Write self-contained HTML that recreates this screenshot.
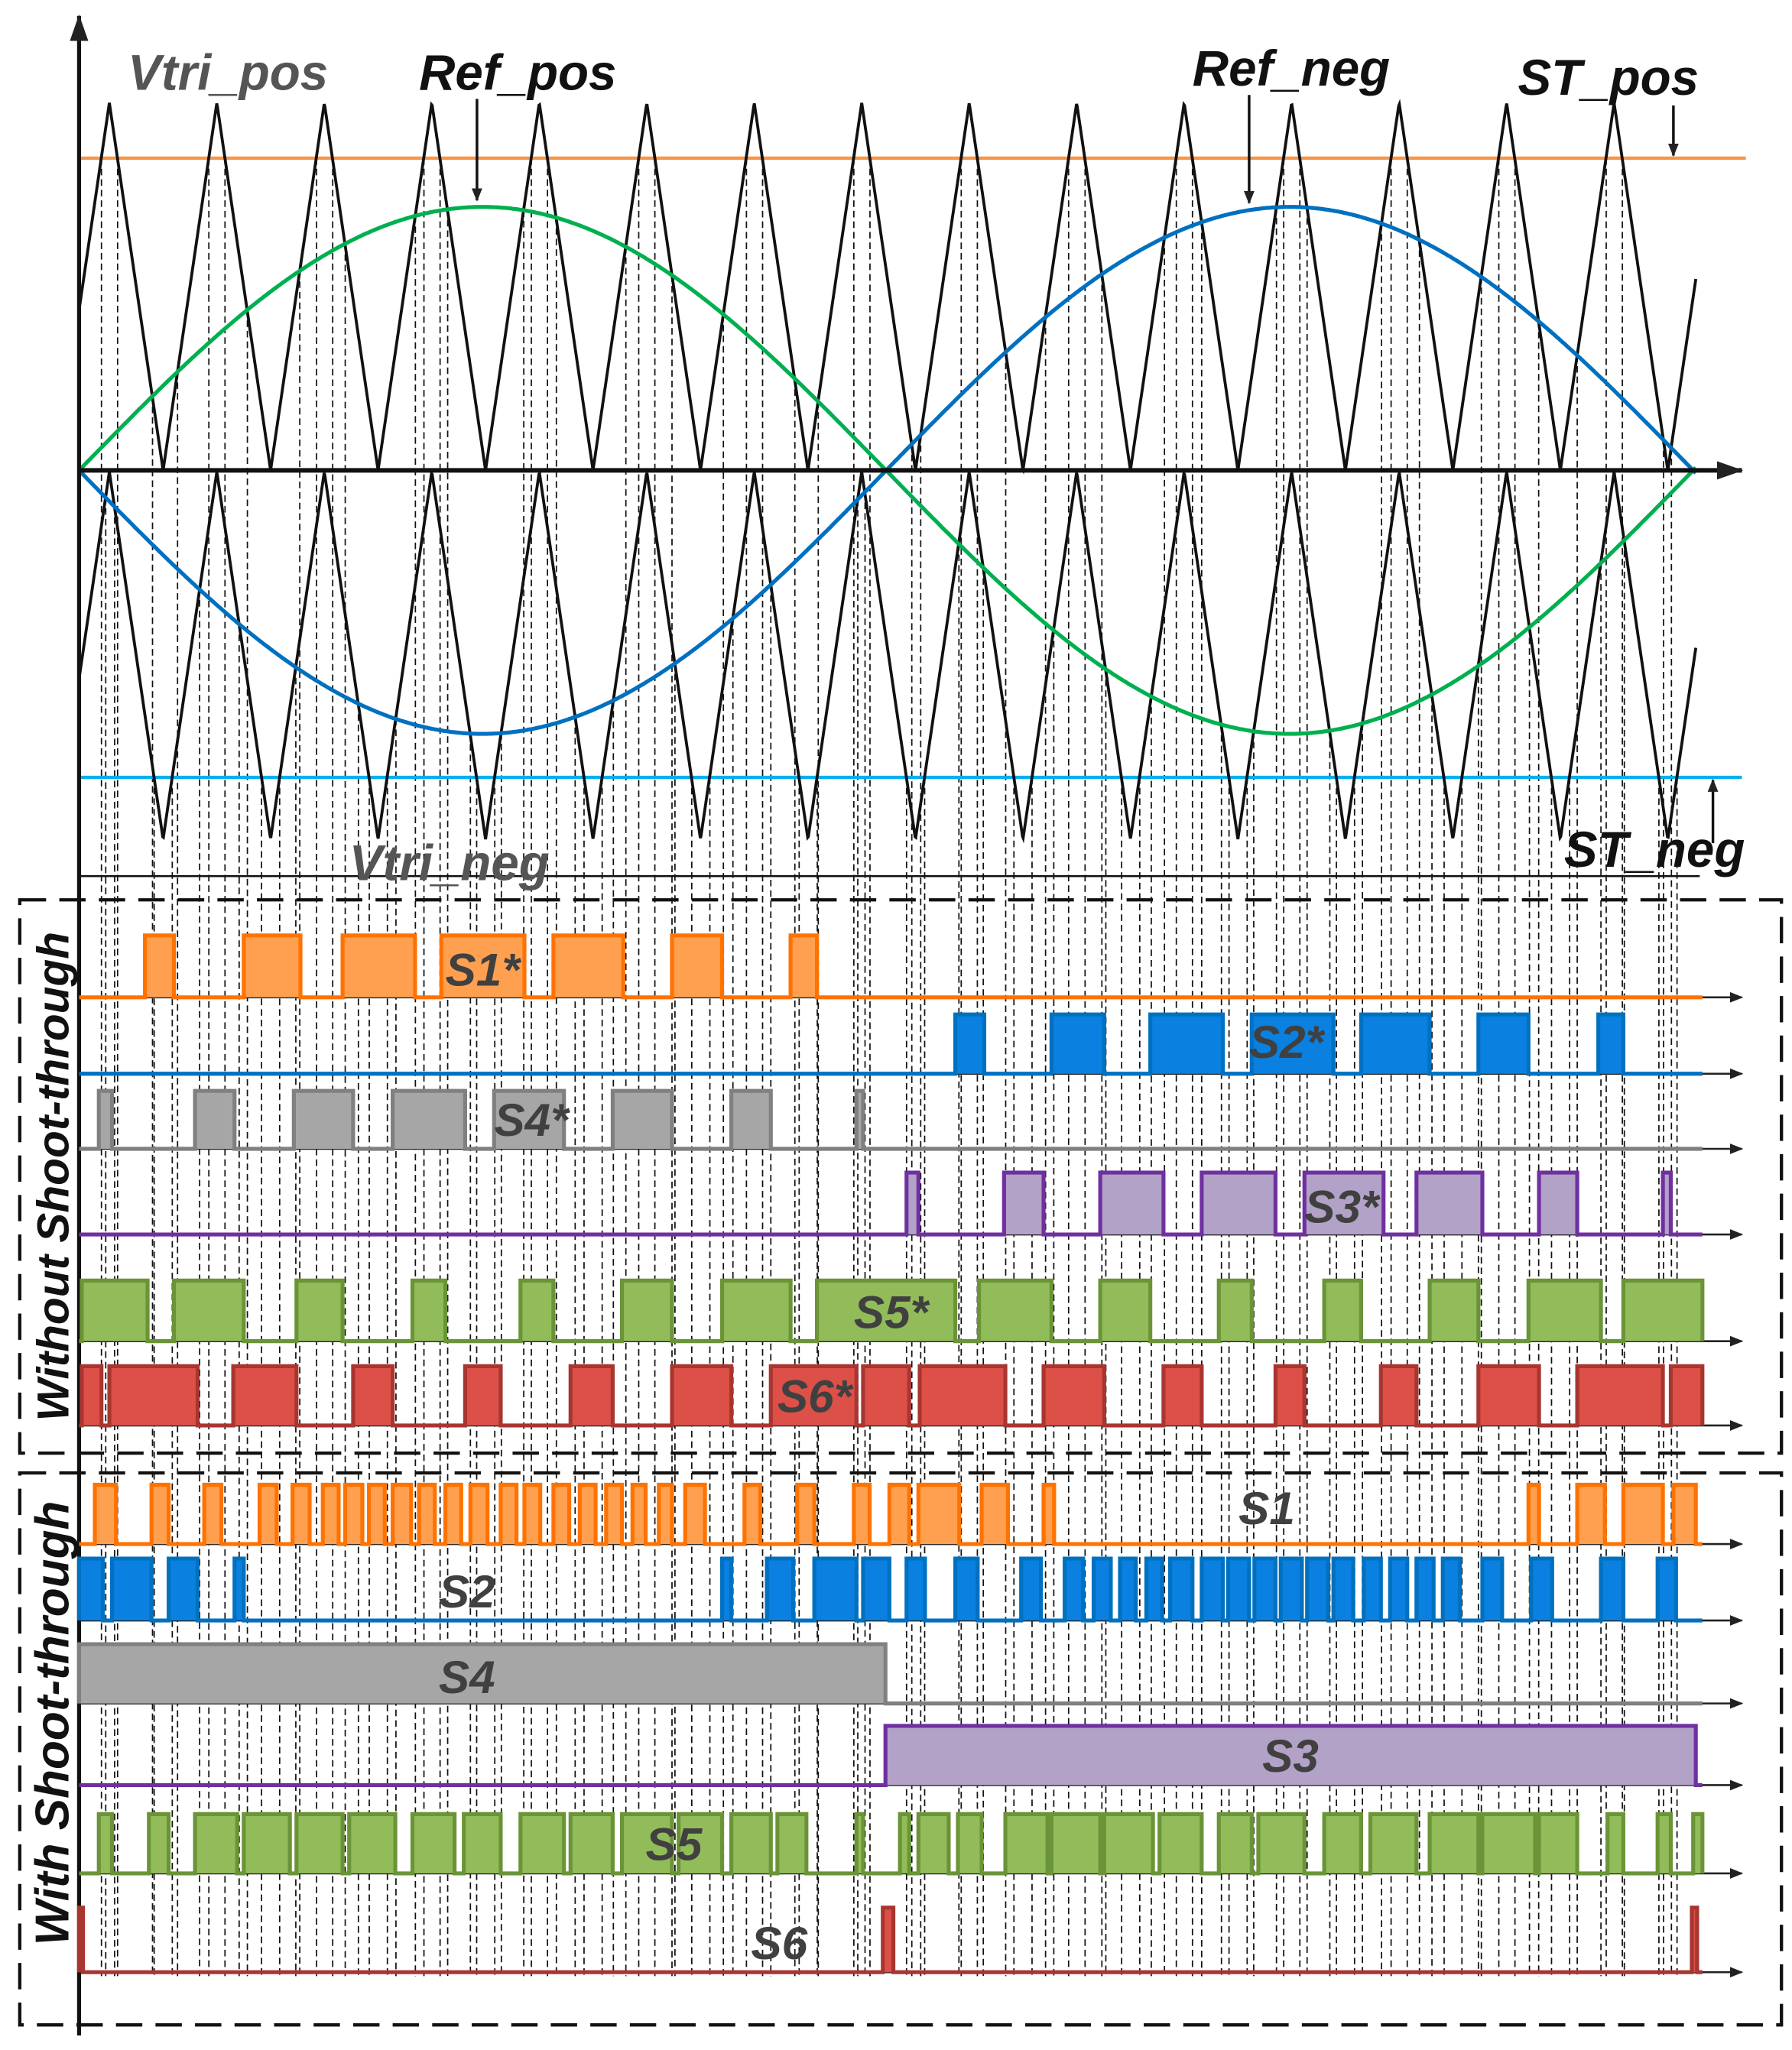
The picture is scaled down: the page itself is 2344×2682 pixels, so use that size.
<!DOCTYPE html>
<html><head><meta charset="utf-8"><style>
html,body{margin:0;padding:0;background:#fff}
svg{display:block}
text{font-family:"Liberation Sans",sans-serif;font-weight:bold;font-style:italic}
</style></head><body>
<svg id="s" width="2344" height="2682" viewBox="0 0 1360 1556" xmlns="http://www.w3.org/2000/svg">
<defs><marker id="ar" markerWidth="10" markerHeight="8" refX="9" refY="4" orient="auto" markerUnits="userSpaceOnUse"><path d="M0,0 L10,4 L0,8z" fill="#222"/></marker>
<marker id="ar2" markerWidth="20" markerHeight="14" refX="19" refY="7" orient="auto" markerUnits="userSpaceOnUse"><path d="M0,0 L20,7 L0,14z" fill="#222"/></marker></defs>
<g id="dash"></g>
<g id="main"></g>
</svg>
<script>
var NS="http://www.w3.org/2000/svg",main=document.getElementById('main'),dg=document.getElementById('dash');
function el(p,t,a){var e=document.createElementNS(NS,t);for(var k in a)e.setAttribute(k,a[k]);p.appendChild(e);return e;}
var P=81.57,pk0=83;
function tri(x){var ph=((x-pk0)%P+P)%P/P;var d=ph<0.5?ph*2:2-ph*2;return 78+279*d;}
function sine(x){return 357-200*Math.sin(2*Math.PI*(x-60)/1225);}
var xs=[];
var prev=null;
for(var x=60;x<=1287;x+=0.25){
  var t=tri(x),g=sine(x),b=714-g,tn=t+280;
  var v=[t-g,t-b,t-120,tn-g,tn-b,tn-590];
  if(prev){for(var i=0;i<v.length;i++){if(prev[i]*v[i]<0){var yy=[g,b,120,g,b,590][i];if(yy>=78&&yy<=637)xs.push([x,yy]);}}}
  prev=v;
}
xs.forEach(function(p){el(dg,'line',{x1:p[0],y1:p[1],x2:p[0],y2:1500,stroke:'#111','stroke-width':1,'stroke-dasharray':'5,3'});});
el(main,'line',{x1:60,y1:120,x2:1325,y2:120,stroke:'#f79646','stroke-width':2.5});
el(main,'line',{x1:60,y1:590,x2:1322,y2:590,stroke:'#00b0f0','stroke-width':2.5});
el(main,'line',{x1:60,y1:665,x2:1290,y2:665,stroke:'#111','stroke-width':1.5});
function triPath(off){var d='';for(var x=60;x<=1287;x+=0.5){d+=(x==60?'M':'L')+x+','+(tri(x)+off).toFixed(1);}return d;}
el(main,'path',{d:triPath(0),fill:'none',stroke:'#111','stroke-width':2.2});
el(main,'path',{d:triPath(280),fill:'none',stroke:'#111','stroke-width':2.2});
var dg2='',db='';for(var x=60;x<=1287;x+=1){dg2+=(x==60?'M':'L')+x+','+sine(x).toFixed(1);db+=(x==60?'M':'L')+x+','+(714-sine(x)).toFixed(1);}
el(main,'path',{d:dg2,fill:'none',stroke:'#00b050','stroke-width':3});
el(main,'path',{d:db,fill:'none',stroke:'#0070c0','stroke-width':3});
el(main,'line',{x1:60,y1:357,x2:1322,y2:357,stroke:'#111','stroke-width':3.5,'marker-end':'url(#ar2)'});
el(main,'line',{x1:60,y1:1545,x2:60,y2:12,stroke:'#111','stroke-width':3,'marker-end':'url(#ar2)'});
el(main,'rect',{x:15,y:683,width:1337,height:420,fill:'none',stroke:'#111','stroke-width':2.5,'stroke-dasharray':'20,10'});
el(main,'rect',{x:15,y:1118,width:1337,height:419,fill:'none',stroke:'#111','stroke-width':2.5,'stroke-dasharray':'20,10'});
function sig(base,high,pulses,fill,stroke){
  var d='M60,'+base;
  pulses.forEach(function(p){d+=' L'+p[0]+','+base+' L'+p[0]+','+high+' L'+p[1]+','+high+' L'+p[1]+','+base;});
  d+=' L1292,'+base;
  el(main,'line',{x1:60,y1:base,x2:1322,y2:base,stroke:'#222','stroke-width':1.5,'marker-end':'url(#ar)'});
  pulses.forEach(function(p){el(main,'rect',{x:p[0],y:high,width:p[1]-p[0],height:base-high,fill:fill});});
  el(main,'path',{d:d,fill:'none',stroke:stroke,'stroke-width':3});
}
function pr(a){var r=[];for(var i=0;i<a.length;i+=2)r.push([a[i],a[i+1]]);return r;}
var OF='#ffa050',OS='#ff7200',BF='#0a80e0',BS='#0070c0',GF='#a6a6a6',GS='#808080',PF='#b3a2c7',PS='#7030a0',NF='#92bc5a',NS2='#6a9437',RF='#dc5048',RS='#a83530';
sig(757,710,pr([110,132,185,228,260,315,335,398,420,473,510,548,600,620]),OF,OS);
sig(815,770,pr([725,747,798,838,873,928,950,1012,1033,1085,1122,1160,1213,1232]),BF,BS);
sig(872,828,pr([75,85,148,178,223,268,298,353,375,428,465,510,555,585,650,655]),GF,GS);
sig(937,890,pr([688,697,762,792,835,883,912,968,990,1050,1075,1125,1168,1197,1262,1268]),PF,PS);
sig(1018,972,pr([62,112,132,185,225,260,313,338,395,420,472,510,548,600,620,725,743,798,835,873,925,950,1005,1033,1085,1122,1160,1215,1232,1292]),NF,NS2);
sig(1082,1037,pr([62,77,83,150,177,225,268,298,353,380,433,465,510,555,585,650,655,690,698,763,792,838,883,912,968,990,1048,1075,1122,1168,1197,1262,1268,1292]),RF,RS);
sig(1172,1127,pr([72,88,115,128,155,168,197,210,222,235,245,257,262,275,280,292,298,312,318,330,338,350,357,370,380,392,398,410,420,432,440,452,460,472,480,490,500,510,520,535,565,577,605,618,648,660,675,690,697,728,745,765,792,800,1160,1168,1197,1218,1232,1262,1270,1287]),OF,OS);
sig(1230,1183,pr([60,78,85,115,128,150,178,185,548,555,582,602,618,650,655,675,688,702,725,742,775,790,808,822,830,843,850,862,870,882,888,905,912,928,932,948,952,968,972,988,992,1008,1012,1027,1035,1048,1055,1068,1075,1088,1095,1108,1125,1140,1162,1178,1215,1232,1258,1272]),BF,BS);
sig(1293,1248,[[60,672]],GF,GS);
sig(1355,1310,[[672,1287]],PF,PS);
sig(1422,1377,pr([75,85,113,128,148,180,185,220,225,260,265,300,313,345,352,380,395,428,433,465,472,510,515,548,555,585,590,612,650,655,683,690,697,720,727,745,763,795,798,835,838,875,880,912,925,950,955,990,1005,1033,1040,1075,1085,1122,1125,1165,1168,1197,1220,1232,1258,1268,1285,1292]),NF,NS2);
sig(1497,1448,pr([60,63,670,678,1284,1288]),RF,RS);
function arr(x1,y1,x2,y2){el(main,'line',{x1:x1,y1:y1,x2:x2,y2:y2,stroke:'#111','stroke-width':2,'marker-end':'url(#ar)'});}
arr(362,75,362,152);arr(948,72,948,154);arr(1270,80,1270,118);arr(1300,640,1300,592);
function tx(s,x,y,c,fs,extra){var t=el(main,'text',Object.assign({x:x,y:y,fill:c,'font-size':fs},extra||{}));t.textContent=s;}
tx('Vtri_pos',97,68,'#555',38);tx('Ref_pos',318,68,'#111',38);tx('Ref_neg',905,65,'#111',38);tx('ST_pos',1152,72,'#111',38);
tx('Vtri_neg',265,668,'#555',38);tx('ST_neg',1187,658,'#111',38);
var L='#404040';
tx('S1*',338,748,L,35);tx('S2*',948,803,L,35);tx('S4*',375,862,L,35);tx('S3*',990,928,L,35);tx('S5*',648,1008,L,35);tx('S6*',590,1072,L,35);
tx('S1',940,1157,L,35);tx('S2',333,1220,L,35);tx('S4',333,1285,L,35);tx('S3',958,1345,L,35);tx('S5',490,1412,L,35);tx('S6',570,1487,L,35);
tx('Without Shoot-through',52,893,'#111',34,{transform:'rotate(-90 52 893)','text-anchor':'middle'});
tx('With Shoot-through',52,1308,'#111',36,{transform:'rotate(-90 52 1308)','text-anchor':'middle'});
</script>
</body></html>
